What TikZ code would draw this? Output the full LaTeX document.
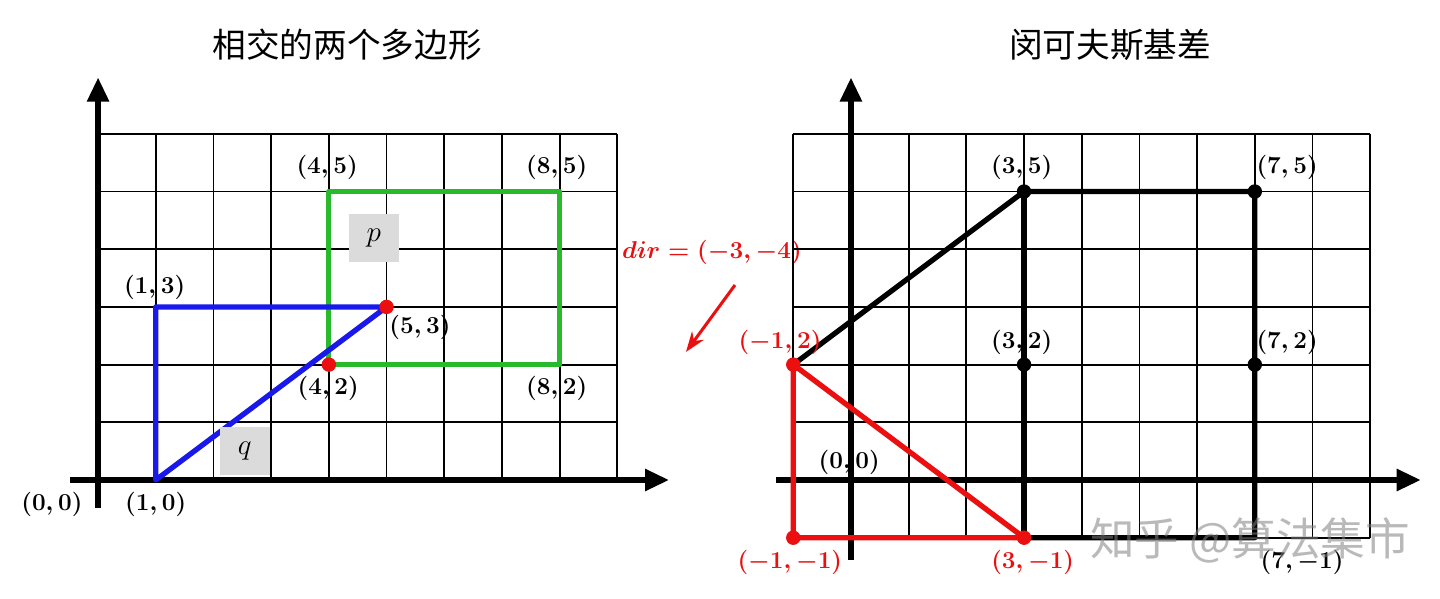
\documentclass[tikz,border=0pt]{standalone}
\usepackage{amsmath}
\usepackage{fontspec}
\usepackage{tikz}
\usetikzlibrary{arrows.meta}
\newfontfamily\cjk{Noto Sans CJK SC}
\definecolor{polyblue}{RGB}{25,25,235}
\definecolor{polygreen}{RGB}{40,185,45}
\definecolor{polyred}{RGB}{235,15,15}

\begin{document}
\begin{tikzpicture}
		\tikzstyle{gridline} = [draw, line width = 0.9pt]
		\tikzstyle{axis} = [draw, line width = 3pt, -{Triangle[length = 0.42cm, width = 0.36cm]}]
		\tikzstyle{edge} = [draw, line width = 2.6pt, line join = round]
		\tikzstyle{dot} = [shape = circle, inner sep = 0pt, minimum size = 0.25cm]
		\tikzstyle{tag} = [font = \fontsize{13}{15}\selectfont\boldmath]
		\tikzstyle{shapelabel} = [fill = gray!28, minimum width = 0.87cm, minimum height = 0.83cm, font = \fontsize{15}{17}\selectfont]
		\tikzstyle{title} = [font = \fontsize{16.6}{20}\selectfont\cjk]

		\useasboundingbox (-1.7, -2.06) rectangle (23.26, 8.32);

	% Izquierda
		\node[title] (title1) at (4.32, 7.54) {相交的两个多边形};
		\draw[gridline] (0, 0) grid (9, 6);
		\coordinate (xstart1) at (-0.49, 0);
		\coordinate (xend1) at (9.9, 0);
		\coordinate (ystart1) at (0, -0.49);
		\coordinate (yend1) at (0, 6.98);
		\draw[axis] (xstart1) -- (xend1);
		\draw[axis] (ystart1) -- (yend1);

		\coordinate (p1) at (4, 2);
		\coordinate (p2) at (8, 2);
		\coordinate (p3) at (8, 5);
		\coordinate (p4) at (4, 5);
		\coordinate (q1) at (1, 0);
		\coordinate (q2) at (5, 3);
		\coordinate (q3) at (1, 3);

		\draw[edge, polygreen] (p1) -- (p2) -- (p3) -- (p4) -- cycle;
		\draw[edge, polyblue] (q1) -- (q2) -- (q3) -- cycle;

		\node[dot, fill = polyred] (hit1) at (q2) {};
		\node[dot, fill = polyred] (hit2) at (p1) {};

		\node[shapelabel] (plabel) at (4.78, 4.2) {$p$};
		\node[shapelabel] (qlabel) at (2.54, 0.5) {$q$};

		\node[tag] (t45) at (3.97, 5.42) {$(4,5)$};
		\node[tag] (t85) at (7.95, 5.42) {$(8,5)$};
		\node[tag] (t13) at (0.98, 3.33) {$(1,3)$};
		\node[tag] (t53) at (5.58, 2.65) {$(5,3)$};
		\node[tag] (t42) at (3.99, 1.58) {$(4,2)$};
		\node[tag] (t82) at (7.95, 1.58) {$(8,2)$};
		\node[tag] (t00) at (-0.8, -0.42) {$(0,0)$};
		\node[tag] (t10) at (1.0, -0.42) {$(1,0)$};

	% Direccion
		\node[tag, text = polyred] (dir) at (10.64, 3.95) {$dir=(-3,-4)$};
		\coordinate (dirstart) at (11.04, 3.38);
		\coordinate (dirend) at (10.19, 2.22);
		\draw[polyred, line width = 1.5pt, -{Stealth[length = 0.35cm, width = 0.25cm]}] (dirstart) -- (dirend);

	% Derecha
		\begin{scope}[xshift = 13.05cm]
		\node[title] (title2) at (4.49, 7.54) {闵可夫斯基差};
		\draw[gridline] (-1, -1) grid (9, 6);
		\coordinate (xstart2) at (-1.3, 0);
		\coordinate (xend2) at (9.88, 0);
		\coordinate (ystart2) at (0, -1.39);
		\coordinate (yend2) at (0, 6.98);
		\draw[axis] (xstart2) -- (xend2);
		\draw[axis] (ystart2) -- (yend2);

		\coordinate (m1) at (-1, 2);
		\coordinate (m2) at (3, 5);
		\coordinate (m3) at (7, 5);
		\coordinate (m4) at (3, 2);
		\coordinate (m5) at (7, 2);
		\coordinate (m6) at (-1, -1);
		\coordinate (m7) at (3, -1);
		\coordinate (m8) at (7, -1);

		\draw[edge, black] (m1) -- (m2) -- (m3) -- (m8) -- (m7);
		\draw[edge, black] (m2) -- (m7);
		\draw[edge, polyred] (m1) -- (m6) -- (m7) -- cycle;

		\node[dot, fill = black] (d2) at (m2) {};
		\node[dot, fill = black] (d3) at (m3) {};
		\node[dot, fill = black] (d4) at (m4) {};
		\node[dot, fill = black] (d5) at (m5) {};
		\node[dot, fill = polyred] (d1) at (m1) {};
		\node[dot, fill = polyred] (d6) at (m6) {};
		\node[dot, fill = polyred] (d7) at (m7) {};

		\node[tag] (s35) at (2.96, 5.42) {$(3,5)$};
		\node[tag] (s75) at (7.56, 5.42) {$(7,5)$};
		\node[tag] (s32) at (2.96, 2.39) {$(3,2)$};
		\node[tag] (s72) at (7.56, 2.39) {$(7,2)$};
		\node[tag, text = polyred] (s12) at (-1.23, 2.39) {$(-1,2)$};
		\node[tag] (s00) at (-0.03, 0.31) {$(0,0)$};
		\node[tag, text = polyred] (s11) at (-1.06, -1.42) {$(-1,-1)$};
		\node[tag, text = polyred] (s31) at (3.15, -1.42) {$(3,-1)$};
		\node[tag] (s71) at (7.82, -1.42) {$(7,-1)$};

		\node[font = \fontsize{22}{24}\selectfont\cjk, text = gray, opacity = 0.55] (mark) at (6.92, -1.04) {知乎 @算法集市};
		\end{scope}

	\end{tikzpicture}
\end{document}
